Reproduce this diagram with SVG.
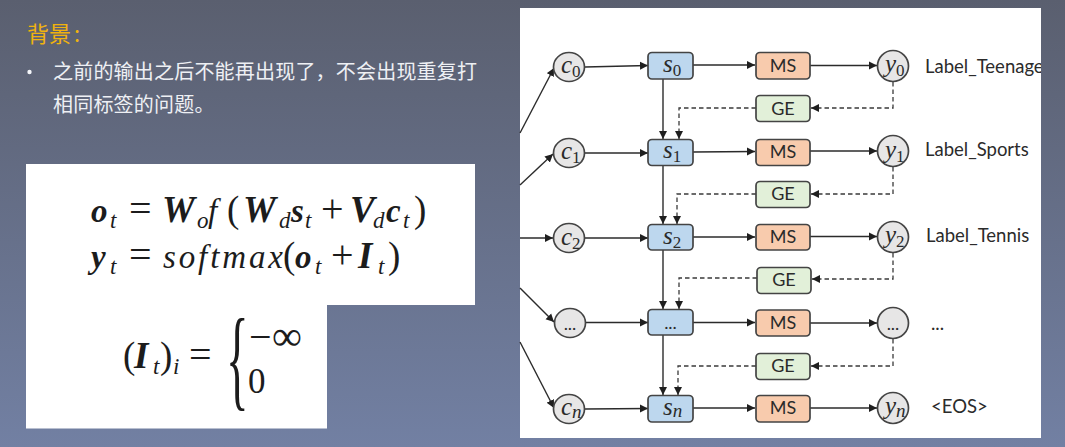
<svg xmlns="http://www.w3.org/2000/svg" width="1065" height="447" viewBox="0 0 1065 447">
<style>
.sans{font-family:"Lato","Open Sans","Liberation Sans",sans-serif;fill:#2b2b2b}
.cjk{font-family:"Noto Sans CJK SC",sans-serif;font-weight:400}
.box{stroke:#444;stroke-width:1.7}
.s{fill:#bdd7ee}.ms{fill:#f8cbad}.ge{fill:#e2f0d9}.circ{fill:#e7e6e6}
.bt{font-size:18px;text-anchor:middle}
.m{font-family:"Liberation Serif",serif;font-style:italic;font-size:25px;fill:#2b2b2b}
.m .d{font-size:17px;font-style:normal}
.m .n{font-size:19px;font-style:italic}
.lb{font-size:18.500px}
.line{fill:none;stroke:#2b2b2b;stroke-width:1.4;marker-end:url(#ah)}
.dash{fill:none;stroke:#3a3a3a;stroke-width:1.3;stroke-dasharray:4.500 3;marker-end:url(#ah)}
.f{font-family:"Liberation Serif",serif;font-size:33px;fill:#1c1c1c}
.b{font-weight:700;font-style:italic}.i{font-style:italic}
.big{font-size:37px}.op{font-size:40px}
.sub{font-size:23px}
</style>
<defs>
<linearGradient id="bg" x1="0" y1="0" x2="0" y2="1"><stop offset="0" stop-color="#5a5f6f"/><stop offset="1" stop-color="#7280a3"/></linearGradient>
<marker id="ah" markerUnits="userSpaceOnUse" markerWidth="9" markerHeight="9" refX="8" refY="4.500" orient="auto"><path d="M0 0.500L8 4.500L0 8.500Z" fill="#1f1f1f"/></marker>
<clipPath id="panel"><rect x="520" y="8" width="521" height="430"/></clipPath>
</defs>
<rect width="1065" height="447" fill="url(#bg)"/>
<text x="27" y="42" font-size="22" fill="#f0b30f" class="cjk">背景<tspan x="74">:</tspan></text>
<circle cx="29.500" cy="72" r="2.200" fill="#f4f6fa"/>
<text x="53" y="79" font-size="20" letter-spacing="0.2" fill="#eef0f4" class="cjk">之前的输出之后不能再出现了，不会出现重复打</text>
<text x="53" y="112" font-size="20" letter-spacing="0.2" fill="#eef0f4" class="cjk">相同标签的问题。</text>
<path d="M26 164H475V305H327V428.500H26Z" fill="#fff"/>
<g id="formula" class="f">
<text y="222"><tspan class="b" x="91">o</tspan><tspan class="i sub" x="110" dy="6">t</tspan><tspan class="op" x="129" dy="-6">=</tspan><tspan class="b big" x="162">W</tspan><tspan class="i sub" x="197" dy="6">o</tspan><tspan class="i" x="208" dy="-6">f</tspan><tspan class="big" x="227">(</tspan><tspan class="b big" x="243">W</tspan><tspan class="i sub" x="279" dy="6">d</tspan><tspan class="b" x="291" dy="-6">s</tspan><tspan class="i sub" x="305" dy="6">t</tspan><tspan class="op" x="321" dy="-6">+</tspan><tspan class="b big" x="350">V</tspan><tspan class="i sub" x="373" dy="6">d</tspan><tspan class="b" x="386" dy="-6">c</tspan><tspan class="i sub" x="403" dy="6">t</tspan><tspan class="big" x="414" dy="-6">)</tspan></text>
<text y="268"><tspan class="b" x="91">y</tspan><tspan class="i sub" x="110" dy="6">t</tspan><tspan class="op" x="129" dy="-6">=</tspan><tspan class="i" x="163" textLength="120">softmax</tspan><tspan class="big" x="283">(</tspan><tspan class="b" x="295">o</tspan><tspan class="i sub" x="315" dy="6">t</tspan><tspan class="op" x="331" dy="-6">+</tspan><tspan class="b big" x="358">I</tspan><tspan class="i sub" x="378" dy="6">t</tspan><tspan class="big" x="388" dy="-6">)</tspan></text>
<text y="368"><tspan class="big" x="123">(</tspan><tspan class="b big" x="134">I</tspan><tspan class="i sub" x="153" dy="6">t</tspan><tspan class="big" x="160" dy="-6">)</tspan><tspan class="i sub" x="173" dy="6">i</tspan><tspan class="op" x="189" dy="-6">=</tspan></text>
<text transform="translate(226 396) scale(0.42 1)" font-size="112">{</text>
<text y="350"><tspan class="op" x="249">−</tspan><tspan x="272" font-size="42">∞</tspan></text>
<text x="248" y="393" font-size="35">0</text>
</g>
<rect x="520" y="8" width="521" height="430" fill="#fff"/>
<g id="connectors">
<path class="line" d="M520 133L554 68"/><path class="line" d="M520 185L553 154"/><path class="line" d="M520 238H553"/><path class="line" d="M520 288L554 322"/><path class="line" d="M520 342L554 408"/>
<path class="line" d="M585 67L648 65.500"/><path class="line" d="M585 153H648"/><path class="line" d="M585 238H648"/><path class="line" d="M586 322.500H648"/><path class="line" d="M585 409L648 408.500"/>
<path class="line" d="M693 65H755"/><path class="line" d="M693 152L755 151.500"/><path class="line" d="M693 237H755"/><path class="line" d="M693 322.500H755"/><path class="line" d="M693 408H755"/>
<path class="line" d="M810 65.500H877"/><path class="line" d="M810 151H877"/><path class="line" d="M810 236.500H877"/><path class="line" d="M810 323H877"/><path class="line" d="M810 408H877"/>
<path class="line" d="M663 79V139"/><path class="line" d="M663 165V224"/><path class="line" d="M663 250V309"/><path class="line" d="M663 335V395"/>
<path class="dash" d="M893 82V108H811"/><path class="dash" d="M893 167V194H811"/><path class="dash" d="M893 253V279H812"/><path class="dash" d="M893 339V366H811"/>
<path class="dash" d="M756 108H679V139"/><path class="dash" d="M756 194H677V224"/><path class="dash" d="M757 278H679V309"/><path class="dash" d="M756 366H678V395"/>
</g>
<g id="c0"><ellipse class="box circ" cx="569" cy="67" rx="15.500" ry="14.500"/><text class="m" x="561" y="73">c<tspan class="d" dy="4">0</tspan></text></g>
<g id="c1"><ellipse class="box circ" cx="569" cy="153" rx="15.500" ry="14.500"/><text class="m" x="561" y="159">c<tspan class="d" dy="4">1</tspan></text></g>
<g id="c2"><ellipse class="box circ" cx="569" cy="238" rx="15.500" ry="14.500"/><text class="m" x="561" y="245">c<tspan class="d" dy="4">2</tspan></text></g>
<g id="cdots"><ellipse class="box circ" cx="570" cy="323" rx="15.500" ry="14.500"/><text class="sans bt" x="570" y="330">...</text></g>
<g id="cn"><ellipse class="box circ" cx="569" cy="409" rx="15.500" ry="14.500"/><text class="m" x="561" y="415">c<tspan class="n" dy="3">n</tspan></text></g>
<g id="s0"><rect class="box s" x="648" y="52.500" width="45" height="26.500" rx="4"/><text class="m" x="663" y="72">s<tspan class="d" dy="4">0</tspan></text></g>
<g id="s1"><rect class="box s" x="648" y="139.500" width="45" height="26" rx="4"/><text class="m" x="663" y="158">s<tspan class="d" dy="4">1</tspan></text></g>
<g id="s2"><rect class="box s" x="648" y="224.500" width="45" height="25.500" rx="4"/><text class="m" x="663" y="244">s<tspan class="d" dy="4">2</tspan></text></g>
<g id="sdots"><rect class="box s" x="648" y="309.500" width="45" height="25.500" rx="4"/><text class="sans bt" x="670.500" y="329">...</text></g>
<g id="sn"><rect class="box s" x="648" y="395.500" width="45" height="26.500" rx="4"/><text class="m" x="663" y="415">s<tspan class="n" dy="2">n</tspan></text></g>
<g id="ms0"><rect class="box ms" x="756" y="52.500" width="54" height="26.500" rx="4"/><text class="sans bt" x="783" y="71.500">MS</text></g>
<g id="ms1"><rect class="box ms" x="756" y="139.500" width="54" height="26" rx="4"/><text class="sans bt" x="783" y="158">MS</text></g>
<g id="ms2"><rect class="box ms" x="756" y="224.500" width="54" height="25.500" rx="4"/><text class="sans bt" x="783" y="243">MS</text></g>
<g id="ms3"><rect class="box ms" x="756" y="310" width="54" height="26" rx="4"/><text class="sans bt" x="783" y="329">MS</text></g>
<g id="ms4"><rect class="box ms" x="756" y="395.500" width="54" height="26.500" rx="4"/><text class="sans bt" x="783" y="414">MS</text></g>
<g id="ge0"><rect class="box ge" x="756" y="95.500" width="54" height="26" rx="4"/><text class="sans bt" x="783" y="114.500">GE</text></g>
<g id="ge1"><rect class="box ge" x="756" y="181.500" width="54" height="26" rx="4"/><text class="sans bt" x="783" y="200">GE</text></g>
<g id="ge2"><rect class="box ge" x="757" y="267.500" width="54" height="26" rx="4"/><text class="sans bt" x="784" y="286">GE</text></g>
<g id="ge3"><rect class="box ge" x="756" y="353.500" width="54" height="26" rx="4"/><text class="sans bt" x="783" y="372">GE</text></g>
<g id="y0"><circle class="box circ" cx="893" cy="66" r="15.500"/><text class="m" x="885" y="72">y<tspan class="d" dy="4">0</tspan></text></g>
<g id="y1"><circle class="box circ" cx="893" cy="151" r="15.500"/><text class="m" x="885" y="158">y<tspan class="d" dy="4">1</tspan></text></g>
<g id="y2"><circle class="box circ" cx="893" cy="237" r="15.500"/><text class="m" x="885" y="243">y<tspan class="d" dy="4">2</tspan></text></g>
<g id="ydots"><circle class="box circ" cx="893" cy="323" r="15.500"/><text class="sans bt" x="893" y="330">...</text></g>
<g id="yn"><circle class="box circ" cx="893" cy="408" r="15.500"/><text class="m" x="885" y="414">y<tspan class="n" dy="3">n</tspan></text></g>
<g id="labels" class="sans lb" clip-path="url(#panel)">
<text x="925" y="73">Label_Teenage</text>
<text x="925" y="156">Label_Sports</text>
<text x="926" y="242">Label_Tennis</text>
<text x="931" y="330">...</text>
<text x="931" y="413">&lt;EOS&gt;</text>
</g>
</svg>
